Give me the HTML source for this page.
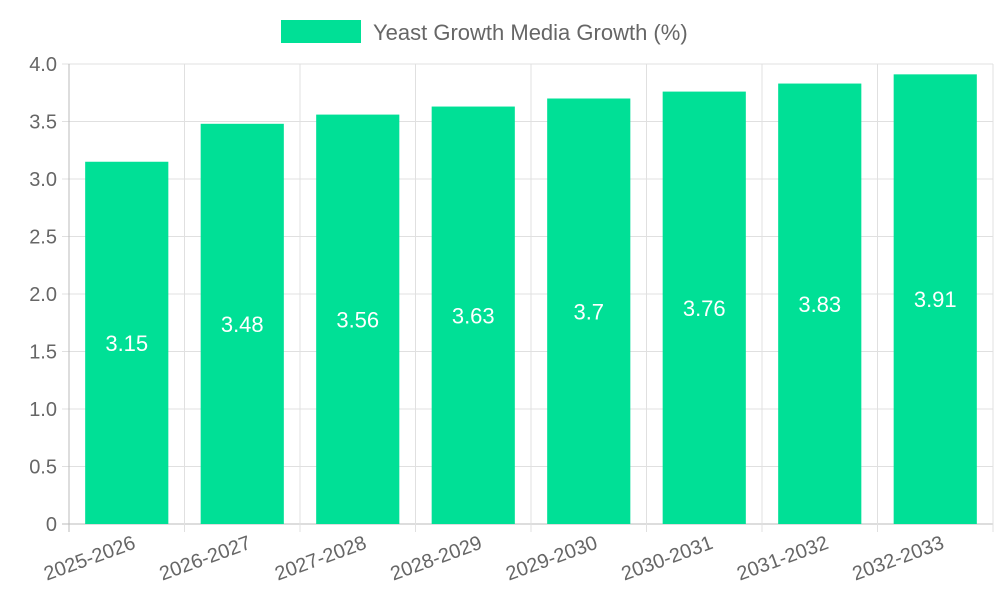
<!DOCTYPE html>
<html><head><meta charset="utf-8"><style>
body{margin:0;background:#fff;font-family:"Liberation Sans",sans-serif}
</style></head><body>
<svg id="c" width="1000" height="600" xmlns="http://www.w3.org/2000/svg">
<rect x="281" y="20" width="80" height="23" fill="#00e096"/>
<text x="373" y="40" font-size="22" fill="#666">Yeast Growth Media Growth (%)</text>
<g id="grid"></g><g id="bars"></g><g id="labels"></g>
</svg>
<script>
const categories=["2025-2026","2026-2027","2027-2028","2028-2029","2029-2030","2030-2031","2031-2032","2032-2033"];
const values=[3.15,3.48,3.56,3.63,3.7,3.76,3.83,3.91];
const yTicks=[0,0.5,1,1.5,2,2.5,3,3.5,4];
const yTickLabels=["0","0.5","1.0","1.5","2.0","2.5","3.0","3.5","4.0"];
const L=69,R=993,T=64,B=524,yMax=4;
const ns="http://www.w3.org/2000/svg";
const bw=(R-L)/categories.length;
const y=v=>B-(v/yMax)*(B-T);
const x=i=>L+i*bw;
function mk(t,a,p){const e=document.createElementNS(ns,t);for(const k in a)e.setAttribute(k,a[k]);p.appendChild(e);return e;}
const g=document.getElementById('grid'),bg=document.getElementById('bars'),lg=document.getElementById('labels');
yTicks.forEach((v,i)=>{
 const ln=mk('line',{x1:L-7,x2:R,y1:y(v),y2:y(v),stroke:i==0?'#bbb':'#e0e0e0','stroke-width':1},g);
 
 
 const t=mk('text',{x:L-12,y:y(v)+7,'text-anchor':'end','font-size':20,fill:'#666'},g);
 t.textContent=yTickLabels[i];
 
 
});
for(let i=0;i<=categories.length;i++){
 const ln=mk('line',{x1:x(i),x2:x(i),y1:T,y2:B+8,stroke:i==0?'#bbb':'#e0e0e0','stroke-width':1},g);
 
 
}
categories.forEach((c,i)=>{
 const cx=x(i)+bw/2,w=bw*0.72;
 const r=mk('rect',{x:cx-w/2,y:y(values[i]),width:w,height:B-y(values[i]),fill:'#00e096'},bg);
 
 
 const v=mk('text',{x:cx,y:(y(values[i])+B)/2+8,'text-anchor':'middle','font-size':22,fill:'#fff'},lg);
 v.textContent=values[i];
 
 
 const t=mk('text',{x:cx+10,y:B+24,'text-anchor':'end','font-size':20,fill:'#666',transform:`rotate(-20 ${cx+10} ${B+24})`},lg);
 t.textContent=c;
 
 
});
</script>
</body></html>
